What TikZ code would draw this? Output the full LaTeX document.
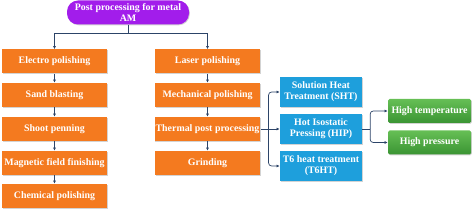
\documentclass[tikz,border=0pt]{standalone}
\usepackage{fontspec}
\setmainfont{Liberation Serif}
\usetikzlibrary{arrows.meta,shadows,positioning}
\definecolor{orangebox}{HTML}{F47A1F}
\definecolor{purplebox}{HTML}{A21DEB}
\definecolor{bluebox}{HTML}{1E9FDC}
\definecolor{greentop}{HTML}{66BF55}
\definecolor{greenbot}{HTML}{3A9433}
\definecolor{conncol}{HTML}{2C4468}
\tikzset{
  basebox/.style={draw=none, text=white, font=\bfseries\fontsize{9.9}{10.8}\selectfont, align=center, inner sep=1pt,
    drop shadow={shadow xshift=0.8pt, shadow yshift=-0.8pt, opacity=0.35}},
  obox/.style={basebox, fill=orangebox, minimum width=105pt, minimum height=24pt},
  bbox/.style={basebox, fill=bluebox, minimum width=82pt, minimum height=30pt},
  gbox/.style={basebox, top color=greentop, bottom color=greenbot, minimum width=83pt, minimum height=24pt, rounded corners=1.5pt},
  pbox/.style={basebox, fill=purplebox, minimum width=122pt, minimum height=24pt, rounded corners=11pt, drop shadow={opacity=0}},
  conn/.style={draw=conncol, line width=0.7pt},
  arr/.style={conn, -{Latex[length=3.2pt,width=3pt]}},
}
\begin{document}
\begin{tikzpicture}[x=1pt,y=-1pt]
\useasboundingbox (0,0) rectangle (474,213);
\node[pbox] (top) at (128,12.5) {Post processing for metal\\AM};
% left column
\node[obox] (ep) at (54.5,61.5) {Electro polishing};
\node[obox] (sb) at (54.5,95) {Sand blasting};
\node[obox] (sp) at (54.5,129) {Shoot penning};
\node[obox] (mf) at (54.5,163) {Magnetic field finishing};
\node[obox] (cp) at (54.5,196) {Chemical polishing};
% right column
\node[obox] (lp) at (207.5,61.5) {Laser polishing};
\node[obox] (mp) at (207.5,95) {Mechanical polishing};
\node[obox] (tp) at (207.5,129) {Thermal post processing};
\node[obox] (gr) at (207.5,163) {Grinding};
% blue
\node[bbox] (sht) at (321,92) {Solution Heat\\Treatment (SHT)};
\node[bbox] (hip) at (321,129) {Hot Isostatic\\Pressing (HIP)};
\node[bbox] (t6) at (321,166) {T6 heat treatment\\(T6HT)};
% green
\node[gbox] (ht) at (429.5,111) {High temperature};
\node[gbox] (hp) at (429.5,142.5) {High pressure};
% connectors from top
\coordinate (tj) at ([yshift=-9pt]top.south);
\draw[conn] (top.south) -- (tj);
\draw[arr] (tj) -| (ep.north);
\draw[arr] (tj) -| (lp.north);
% column arrows
\draw[arr] (ep) -- (sb);
\draw[arr] (sb) -- (sp);
\draw[arr] (sp) -- (mf);
\draw[arr] (mf) -- (cp);
\draw[arr] (lp) -- (mp);
\draw[arr] (mp) -- (tp);
\draw[arr] (tp) -- (gr);
% thermal bracket
\coordinate (bj) at ([xshift=8pt]tp.east);
\draw[conn] (tp.east) -- (bj);
\draw[arr, rounded corners=3pt] (bj) |- (sht.west);
\draw[arr, rounded corners=3pt] (bj) |- (t6.west);
\draw[arr] (bj) -- (hip.west);
% HIP bracket
\coordinate (hj) at ([xshift=8pt]hip.east);
\draw[conn] (hip.east) -- (hj);
\draw[arr, rounded corners=3pt] (hj) |- (ht.west);
\draw[arr, rounded corners=3pt] (hj) |- (hp.west);
\end{tikzpicture}
\end{document}
